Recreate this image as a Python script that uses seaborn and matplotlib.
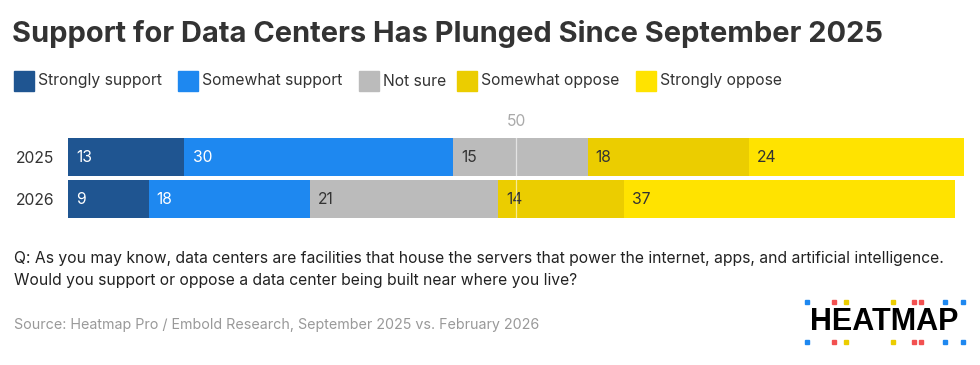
import pandas as pd
import seaborn as sns
import matplotlib.pyplot as plt
from matplotlib.patches import Rectangle

# Survey shares (percent) per response, per year
years = ["2025", "2026"]
responses = ["Strongly support", "Somewhat support", "Not sure", "Somewhat oppose", "Strongly oppose"]
strongly_support = [13, 9]
somewhat_support = [30, 18]
not_sure = [15, 21]
somewhat_oppose = [18, 14]
strongly_oppose = [24, 37]

colors = ["#1F5591", "#1E88F0", "#BBBBBB", "#EBCD00", "#FFE300"]
label_colors = ["white", "white", "#333333", "#333333", "#333333"]

df = pd.DataFrame({
    "year": years,
    "Strongly support": strongly_support,
    "Somewhat support": somewhat_support,
    "Not sure": not_sure,
    "Somewhat oppose": somewhat_oppose,
    "Strongly oppose": strongly_oppose,
})

# cumulative ends for stacking
cum = df[responses].cumsum(axis=1)
starts = cum - df[responses]

sns.set_theme(style="white")
plt.rcParams["font.family"] = ["Inter", "DejaVu Sans"]

fig = plt.figure(figsize=(9.8, 3.65), dpi=100)
ax = fig.add_axes([68 / 980, 1 - 220 / 365, 896 / 980, 84 / 365])

# draw longest cumulative first so shorter segments sit on top
for resp, col in reversed(list(zip(responses, colors))):
    sns.barplot(x=cum[resp], y=df["year"], color=col, width=0.9,
                orient="h", ax=ax, saturation=1, linewidth=0)

for resp, lc in zip(responses, label_colors):
    for i in range(len(years)):
        ax.text(starts[resp][i] + 0.9, i, str(df[resp][i]), va="center", ha="left",
                fontsize=11.3, color=lc)

ax.axvline(50, color="white", alpha=0.6, lw=0.9, ymin=0, ymax=1.1, clip_on=False, zorder=5)

ax.set_xlim(0, 100)
ax.set_ylim(1.5, -0.5)
ax.xaxis.tick_top()
ax.set_xticks([50])
ax.set_xticklabels(["50"], color="#AAAAAA", fontsize=11.3)
ax.tick_params(axis="x", length=0, pad=5)
ax.tick_params(axis="y", length=0, pad=10, labelsize=11.3, labelcolor="#333333")
ax.set_xlabel("")
ax.set_ylabel("")
sns.despine(ax=ax, left=True, bottom=True)

# title
fig.text(12 / 980, 1 - 34 / 365, "Support for Data Centers Has Plunged Since September 2025",
         fontsize=20.9, fontweight="bold", color="#333333", va="center", ha="left")

# legend
legend_x = [14, 178, 359, 457, 636]
for x, resp, col in zip(legend_x, responses, colors):
    fig.add_artist(Rectangle((x / 980, 1 - 91 / 365), 20 / 980, 20 / 365,
                             transform=fig.transFigure, color=col))
    fig.text((x + 24) / 980, 1 - 81 / 365, resp, fontsize=11.3, color="#333333",
             va="center", ha="left")

# question and source
fig.text(14 / 980, 1 - 258 / 365,
         "Q: As you may know, data centers are facilities that house the servers that power the internet, apps, and artificial intelligence.",
         fontsize=11.3, color="#222222", va="center", ha="left")
fig.text(14 / 980, 1 - 281 / 365,
         "Would you support or oppose a data center being built near where you live?",
         fontsize=11.3, color="#222222", va="center", ha="left")
fig.text(14 / 980, 1 - 325 / 365,
         "Source: Heatmap Pro / Embold Research, September 2025 vs. February 2026",
         fontsize=10.3, color="#999999", va="center", ha="left")

# HEATMAP logo
fig.text(884 / 980, 1 - 322.5 / 365, "HEATMAP", fontsize=22, fontweight="bold",
         color="black", va="center", ha="center", family="Liberation Sans")
dot_specs = [(807, "#1E88F0"), (834, "#F25050"), (846, "#EBCD00"), (893, "#EBCD00"),
             (914, "#F25050"), (921, "#F25050"), (945, "#1E88F0"), (963, "#1E88F0")]
for dx, dc in dot_specs:
    for dy in (302, 342):
        fig.add_artist(Rectangle(((dx - 2) / 980, 1 - (dy + 2) / 365), 4 / 980, 4 / 365,
                                 transform=fig.transFigure, color=dc))

fig.savefig("out.png", dpi=100)
